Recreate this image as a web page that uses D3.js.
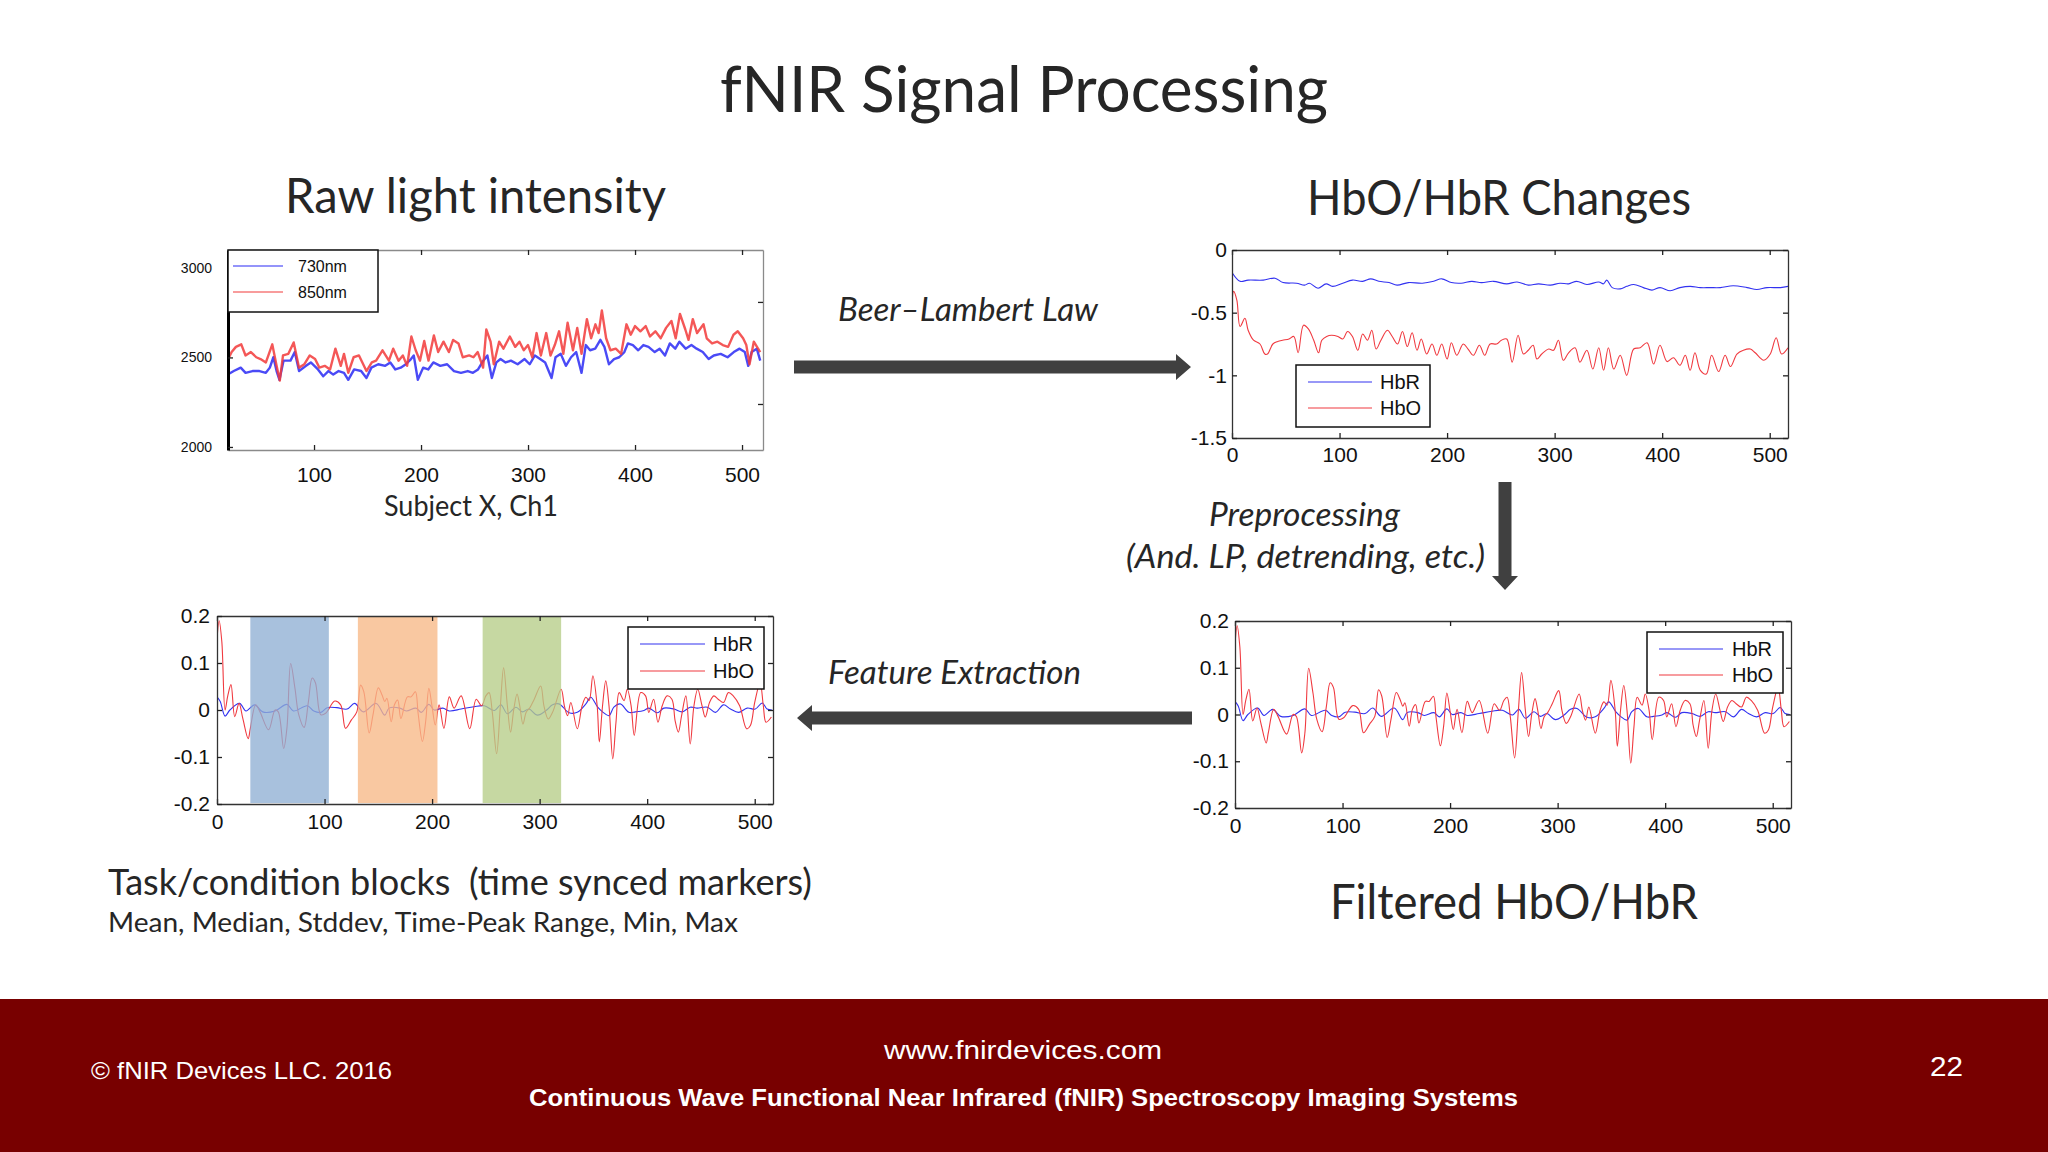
<!DOCTYPE html>
<html>
<head>
<meta charset="utf-8">
<script src="https://cdnjs.cloudflare.com/ajax/libs/d3/7.8.5/d3.min.js"></script>
<style>
  body { margin: 0; background: #fff; }
  svg { display: block; }
  .tick text { font-family: "Liberation Sans", Arial, sans-serif; fill: #111; }
</style>
</head>
<body>
<script>
// ---- data ----
// raw light intensity, [sample, value]
var raw730 = [[19,2404],[25,2424],[31.5,2443],[36,2414],[42.5,2424],[49,2424],[55,2414],[58.7,2443],[62,2501],[65,2424],[67.7,2375],[71.5,2482],[78,2482],[82,2530],[86,2424],[92.5,2453],[97,2472],[103.7,2433],[108.6,2395],[113.4,2424],[118,2404],[123,2424],[128,2414],[132,2375],[137.5,2433],[144,2424],[149,2385],[153.6,2443],[160,2462],[166.5,2453],[171.3,2472],[176,2433],[181,2443],[185.8,2462],[190.6,2491],[193.2,2511],[197,2375],[202,2443],[206.7,2433],[211.5,2472],[218,2453],[224.4,2462],[230.8,2424],[237.3,2414],[243.7,2424],[248.5,2414],[253.3,2433],[258.2,2482],[262,2511],[266.2,2385],[270.4,2472],[274.3,2491],[279,2472],[284,2482],[290.3,2462],[296.8,2491],[301.6,2462],[306.4,2511],[311.3,2491],[316,2472],[322,2385],[325.7,2501],[330.6,2520],[335.4,2453],[340.2,2501],[345,2530],[350,2414],[354,2569],[358,2540],[362.8,2549],[367.6,2598],[371.4,2559],[375.6,2462],[380.4,2491],[385.2,2501],[390,2530],[393.3,2578],[398,2569],[403,2540],[407.8,2569],[412.6,2559],[418.4,2530],[423,2549],[428,2511],[432.5,2578],[437.6,2549],[441.5,2588],[447.3,2549],[452.7,2569],[457.6,2549],[463.3,2530],[468.8,2491],[473.6,2511],[480,2520],[486.5,2501],[492.3,2530],[497.7,2549],[502.6,2530],[505.8,2453],[509,2530],[513.8,2549],[517,2482]];
var raw850 = [[19,2482],[23,2530],[27,2559],[32,2573],[36,2511],[41,2530],[46,2501],[50,2491],[55,2472],[61,2573],[65,2453],[68,2371],[71,2511],[76,2520],[81,2584],[86,2443],[91,2462],[96,2511],[101,2491],[105,2443],[110,2453],[115,2433],[120,2549],[125,2453],[128,2520],[132,2414],[137,2501],[142,2511],[149,2424],[154,2472],[158,2482],[164,2540],[170,2482],[174,2549],[179,2482],[183,2511],[187,2453],[191,2617],[195,2540],[199,2482],[203,2592],[207,2482],[212,2623],[216,2530],[221,2588],[226,2530],[230,2598],[235,2578],[239,2501],[245,2511],[249,2501],[253,2530],[258,2443],[261,2656],[265,2588],[268,2462],[273,2588],[277,2549],[283,2617],[288,2559],[292,2588],[296,2540],[300,2569],[304,2501],[308,2636],[312,2511],[317,2636],[321,2511],[325,2569],[329,2646],[333,2520],[337,2694],[342,2540],[346,2665],[350,2520],[355,2714],[359,2607],[363,2685],[366,2636],[369,2762],[373,2607],[377,2540],[382,2549],[387,2520],[392,2685],[396,2627],[400,2675],[405,2646],[410,2675],[414,2617],[419,2646],[424,2607],[429,2665],[434,2704],[438,2607],[442,2743],[447,2656],[450,2598],[454,2714],[458,2636],[464,2685],[467,2607],[472,2578],[477,2588],[482,2569],[487,2559],[492,2627],[496,2646],[501,2607],[504,2569],[507,2462],[511,2588],[515,2549],[517,2530]];

// HbO / HbR changes
var hbrChange = [[0,-0.18],[7.5,-0.25],[15,-0.24],[29,-0.24],[40,-0.225],[47.5,-0.26],[60,-0.265],[67.5,-0.28],[72,-0.265],[80,-0.305],[87.5,-0.27],[93.5,-0.29],[103,-0.265],[112,-0.24],[121.5,-0.25],[129,-0.23],[136.5,-0.25],[146,-0.26],[153.5,-0.28],[164,-0.26],[177,-0.265],[187.5,-0.25],[195,-0.23],[204,-0.26],[213,-0.265],[223,-0.25],[232,-0.26],[243,-0.25],[255.5,-0.27],[265,-0.255],[275.5,-0.28],[285,-0.27],[296,-0.28],[305,-0.265],[313,-0.27],[320.5,-0.25],[330,-0.275],[341,-0.255],[345.5,-0.27],[348.5,-0.24],[353.5,-0.30],[361,-0.31],[367,-0.29],[373.5,-0.275],[382.5,-0.30],[390.5,-0.32],[398,-0.30],[407.5,-0.325],[416.5,-0.30],[426,-0.29],[435.5,-0.30],[444.5,-0.30],[454,-0.30],[466,-0.285],[479,-0.30],[488,-0.315],[497.5,-0.30],[510,-0.30],[517,-0.29]];
var hboChange = [[0,-0.44],[1.5,-0.33],[4.5,-0.40],[7.5,-0.61],[12,-0.545],[15,-0.64],[20,-0.72],[26,-0.75],[30.5,-0.83],[33,-0.83],[38,-0.75],[42.5,-0.73],[47,-0.72],[53,-0.71],[57.5,-0.69],[61.5,-0.82],[66.5,-0.60],[71,-0.63],[76,-0.72],[80.5,-0.82],[83.5,-0.72],[88,-0.69],[92.5,-0.68],[98.5,-0.69],[103,-0.71],[107.5,-0.65],[112,-0.69],[117,-0.80],[121.5,-0.67],[126,-0.72],[130,-0.64],[134,-0.79],[138.5,-0.72],[144.5,-0.64],[149,-0.69],[154,-0.75],[158.5,-0.65],[163,-0.77],[167.5,-0.66],[172,-0.80],[176,-0.71],[181,-0.83],[186,-0.75],[190.5,-0.84],[195,-0.75],[200,-0.87],[204,-0.74],[209,-0.84],[215,-0.75],[219.5,-0.79],[224.5,-0.84],[230,-0.76],[235,-0.84],[240,-0.75],[246,-0.75],[250.5,-0.72],[255.5,-0.71],[260.5,-0.895],[266,-0.68],[271,-0.83],[275.5,-0.80],[280,-0.76],[283.5,-0.87],[288,-0.83],[294.5,-0.79],[299,-0.80],[303.5,-0.72],[308,-0.88],[313,-0.82],[319,-0.78],[323.5,-0.895],[330,-0.80],[335.5,-0.95],[341,-0.78],[345.5,-0.96],[350,-0.78],[355,-0.95],[361,-0.84],[367,-1.0],[373.5,-0.79],[379.5,-0.78],[386,-0.74],[392,-0.91],[398,-0.76],[404.5,-0.89],[410.5,-0.86],[416.5,-0.92],[421.5,-0.84],[426,-0.96],[430.5,-0.82],[435.5,-0.96],[441,-0.99],[446,-0.84],[452.5,-0.97],[458.5,-0.84],[463.5,-0.93],[469.5,-0.83],[475.5,-0.80],[482,-0.79],[486.5,-0.82],[494.5,-0.88],[500.5,-0.83],[506,-0.70],[511,-0.83],[517,-0.78]];

// filtered HbO / HbR (same signal in both bottom charts)
var hbrFilt = [[0,0.028],[3,0.018],[7.5,-0.013],[12,0],[21,0.014],[27,-0.002],[35,0.011],[42.5,-0.004],[54,-0.002],[65,0.012],[71,-0.002],[84,0.009],[90,-0.002],[96.5,-0.005],[102.5,0.005],[111.5,0.005],[121,0.002],[128,0.014],[136,-0.004],[148,0.014],[156,-0.011],[160,0.004],[170,0.004],[176,-0.002],[185,0.004],[190,-0.005],[197,0.012],[202,0],[210,0.004],[216,-0.002],[227,0.002],[239,0.007],[248.5,0.009],[258,-0.001],[264,0.011],[270,-0.008],[278,0.006],[284,-0.004],[290,0.002],[298,-0.011],[306,-0.001],[312,0.011],[318,0.013],[327.5,-0.006],[335,-0.005],[343,0.013],[347.5,0.027],[354,0.006],[358.5,-0.004],[364.5,-0.012],[369,0.006],[375,0.013],[383,-0.005],[389,-0.004],[397,-0.001],[401.5,0.004],[409.5,-0.006],[415.5,0.004],[425,0.002],[432.5,-0.004],[440,0.006],[446.5,0.004],[456,0.006],[463.5,-0.005],[471,0.011],[477.5,0.002],[485,-0.005],[493,0.004],[500.5,0.002],[507,0.015],[511.5,0.002],[516,0]];
var hboFilt = [[0,0.15],[2,0.19],[4.5,0.145],[7.5,0.0],[10,0.03],[13,0.054],[16.5,-0.014],[20.5,0.014],[24,-0.018],[29,-0.061],[31,-0.039],[36,0.011],[40,-0.004],[48,-0.042],[54,0.0],[57,-0.004],[62,-0.082],[65,-0.039],[68.5,0.099],[72.5,0.046],[76,-0.01],[81,-0.037],[85,0.018],[88.5,0.068],[91.5,0.058],[96.5,-0.01],[101,-0.007],[109.5,0.019],[115,0.011],[119.5,-0.039],[125,-0.021],[130,-0.004],[133.5,0.053],[136.5,0.039],[141.5,-0.049],[145,-0.011],[150,0.047],[153.5,0.032],[156,0.018],[158,0.025],[162,-0.025],[165,0.011],[168,0.021],[171,-0.018],[177,0.028],[180.5,0.028],[184.5,0.039],[187,-0.007],[191,-0.067],[194,-0.025],[197,0.046],[200,0.007],[203,-0.032],[206.5,0.011],[211,-0.039],[216,0.028],[220.5,0.004],[227,0.03],[235,-0.04],[241,0.023],[246,0.009],[250,0.03],[253,0.037],[256,-0.005],[260,-0.093],[263.5,0.009],[266.5,0.09],[270,0.009],[273,-0.047],[276,0.002],[279,0.034],[281.5,0.009],[284.5,-0.03],[287.5,-0.005],[291,0.005],[295,0.023],[301,0.051],[304,0.009],[308,-0.019],[312,-0.005],[320,0.044],[323,0.009],[326,-0.012],[329,0.016],[335,-0.04],[339.5,0.009],[343,0.027],[346,0.02],[349.5,0.073],[353.5,0.009],[355.5,-0.068],[358.5,0.009],[361.5,0.062],[364.5,0.009],[368,-0.104],[371,-0.026],[374,0.037],[378.5,0.02],[381.5,0.044],[385,0.01],[388,-0.054],[394,0.037],[398.5,0.03],[401.5,-0.005],[406,0.023],[410,-0.026],[414,0.009],[418.5,0.03],[423,0.023],[426,-0.023],[429,-0.047],[432,-0.012],[436,0.03],[440,-0.072],[443.5,0.009],[447,0.044],[451,0.009],[454,-0.015],[458,0.016],[462,0.03],[466,0.023],[471,0.016],[475.5,0.037],[480,0.03],[486,0.009],[492.5,-0.04],[496,-0.033],[500,0.016],[505,0.058],[508,0.009],[510.5,-0.026],[515.5,-0.015]];

// task/condition blocks [start, end]
var blocks = [[31,104],[131,205],[247,320]];

// ticks
var rawXTicks = [100,200,300,400,500];
var rawYTicks = [2000,2500,3000];
var rawRightTicks = [2240,2810];
var hbXTicks = [0,100,200,300,400,500];
var changeYTicks = [-1.5,-1,-0.5,0];
var filtYTicks = [-0.2,-0.1,0,0.1,0.2];

var RED = "#f03a40", BLUE = "#3232f0";
var blockColors = ["#90afd4", "#f7b986", "#b6cd88"];

var svg = d3.select("body").append("svg").attr("width",2048).attr("height",1152);
svg.append("rect").attr("width",2048).attr("height",1152).attr("fill","#fff");

function txt(s, x, y, size, o) {
  o = o || {};
  var t = svg.append("text").attr("x",x).attr("y",y)
    .attr("font-size",size)
    .attr("font-family", o.family || "Lato, 'Open Sans', sans-serif")
    .attr("fill", o.fill || "#262626")
    .style("white-space","pre")
    .text(s);
  if (o.italic) t.attr("font-style","italic");
  if (o.bold) t.attr("font-weight","bold");
  if (o.len) t.attr("textLength",o.len).attr("lengthAdjust","spacingAndGlyphs");
  return t;
}

var clipN = 0;
function drawChart(c) {
  var g = svg.append("g");
  var x = d3.scaleLinear().domain(c.xDomain).range([c.left, c.right]);
  var y = d3.scaleLinear().domain(c.yDomain).range([c.bottom, c.top]);
  var id = "clip" + (clipN++);
  g.append("clipPath").attr("id", id).append("rect")
    .attr("x", c.left).attr("y", c.top).attr("width", c.right - c.left).attr("height", c.bottom - c.top);

  var line = d3.line().x(function(d){return x(d[0]);}).y(function(d){return y(d[1]);})
    .curve(c.smooth ? d3.curveCatmullRom : d3.curveLinear);

  var lg = g.append("g").attr("clip-path","url(#"+id+")");
  c.series.forEach(function(s){
    lg.append("path").datum(s.data).attr("d", line)
      .attr("fill","none").attr("stroke", s.color).attr("stroke-width", c.lw)
      .attr("stroke-opacity", c.lineOpacity || 1)
      .attr("stroke-linejoin","round");
  });

  if (c.blocks) {
    g.selectAll("rect.blk").data(c.blocks).enter().append("rect")
      .attr("class","blk")
      .attr("x", function(d){return x(d[0]);})
      .attr("width", function(d){return x(d[1]) - x(d[0]);})
      .attr("y", c.top + 1).attr("height", c.bottom - c.top - 2)
      .attr("fill", function(d,i){return blockColors[i];})
      .attr("fill-opacity", 0.78);
  }

  var fc = c.frameColor || "#333";
  var xb = g.append("g").attr("transform","translate(0,"+c.bottom+")")
    .call(d3.axisBottom(x).tickValues(c.xTicks).tickSize(-5).tickSizeOuter(0)
      .tickPadding(c.xPad).tickFormat(function(d){return String(d);}));
  var xt = g.append("g").attr("transform","translate(0,"+c.top+")")
    .call(d3.axisTop(x).tickValues(c.xTicks).tickSize(-5).tickSizeOuter(0).tickFormat(""));
  var yl = g.append("g").attr("transform","translate("+c.left+",0)")
    .call(d3.axisLeft(y).tickValues(c.yTicks).tickSize(-5).tickSizeOuter(0)
      .tickPadding(c.yPad).tickFormat(function(d){return String(d);}));
  var yr = g.append("g").attr("transform","translate("+c.right+",0)")
    .call(d3.axisRight(y).tickValues(c.rTicks || c.yTicks).tickSize(-5).tickSizeOuter(0).tickFormat(""));

  [xb, xt, yl, yr].forEach(function(a){
    a.select(".domain").attr("stroke", fc).attr("stroke-width", 1.3);
    a.selectAll(".tick line").attr("stroke", "#222").attr("stroke-width", 1.3);
  });
  xb.selectAll(".tick text").attr("font-size", c.xFont);
  yl.selectAll(".tick text").attr("font-size", c.yFont);
  if (c.leftAxis) yl.select(".domain").attr("stroke","#000").attr("stroke-width", 3);

  if (c.legend) {
    var L = c.legend;
    var lgG = g.append("g");
    lgG.append("rect").attr("x", L.x).attr("y", L.y).attr("width", L.w).attr("height", L.h)
      .attr("fill","#fff").attr("stroke","#111").attr("stroke-width",1.5);
    c.series.forEach(function(s, i){
      var yy = L.y + L.rows[i];
      lgG.append("line").attr("x1", L.x + L.l0).attr("x2", L.x + L.l1)
        .attr("y1", yy).attr("y2", yy).attr("stroke", s.color).attr("stroke-width", 1.2);
      lgG.append("text").attr("x", L.x + L.tx).attr("y", yy).attr("dy","0.36em")
        .attr("font-family","'Liberation Sans', Arial, sans-serif")
        .attr("font-size", L.font).attr("fill","#111").text(s.name);
    });
  }
}

// ---- raw light intensity ----
drawChart({
  left: 228, right: 763, top: 250, bottom: 450,
  xDomain: [19.6, 519.6], yDomain: [1983, 3100],
  xTicks: rawXTicks, yTicks: rawYTicks, rTicks: rawRightTicks,
  xPad: 17, yPad: 16, xFont: 21, yFont: 14, lw: 2.4, lineOpacity: 0.85, smooth: false,
  frameColor: "#8a8a8a", leftAxis: true,
  series: [{name:"730nm", color: "#2a2af5", data: raw730}, {name:"850nm", color: "#f23a3a", data: raw850}],
  legend: {x: 228, y: 250, w: 150, h: 62, rows: [16, 42], l0: 5, l1: 55, tx: 70, font: 16}
});

// ---- HbO/HbR changes ----
drawChart({
  left: 1232, right: 1788, top: 250, bottom: 438,
  xDomain: [0, 517], yDomain: [-1.5, 0],
  xTicks: hbXTicks, yTicks: changeYTicks,
  xPad: 9, yPad: 5, xFont: 21, yFont: 21, lw: 1.1, smooth: true,
  series: [{name:"HbR", color: BLUE, data: hbrChange}, {name:"HbO", color: RED, data: hboChange}],
  legend: {x: 1296, y: 365, w: 134, h: 62, rows: [17, 43], l0: 12, l1: 76, tx: 84, font: 20}
});

// ---- task/condition blocks ----
drawChart({
  left: 217, right: 773, top: 616, bottom: 804,
  xDomain: [0, 517], yDomain: [-0.2, 0.2],
  xTicks: hbXTicks, yTicks: filtYTicks,
  xPad: 10, yPad: 7, xFont: 21, yFont: 21, lw: 1.1, smooth: true,
  blocks: blocks,
  series: [{name:"HbR", color: BLUE, data: hbrFilt}, {name:"HbO", color: RED, data: hboFilt}],
  legend: {x: 628, y: 627, w: 136, h: 62, rows: [17, 44], l0: 12, l1: 77, tx: 85, font: 20}
});

// ---- filtered HbO/HbR ----
drawChart({
  left: 1235, right: 1791, top: 621, bottom: 808,
  xDomain: [0, 517], yDomain: [-0.2, 0.2],
  xTicks: hbXTicks, yTicks: filtYTicks,
  xPad: 10, yPad: 6, xFont: 21, yFont: 21, lw: 1.1, smooth: true,
  series: [{name:"HbR", color: BLUE, data: hbrFilt}, {name:"HbO", color: RED, data: hboFilt}],
  legend: {x: 1647, y: 632, w: 136, h: 61, rows: [17, 43], l0: 12, l1: 76, tx: 85, font: 20}
});

// ---- arrows ----
var AC = "#404040";
svg.append("path").attr("fill", AC)
  .attr("d","M794,360.5 L1176,360.5 L1176,354 L1191,367 L1176,380 L1176,373.5 L794,373.5 Z");
svg.append("path").attr("fill", AC)
  .attr("d","M1498.5,482 L1511.5,482 L1511.5,576 L1518,576 L1505,590 L1492,576 L1498.5,576 Z");
svg.append("path").attr("fill", AC)
  .attr("d","M1192,711.5 L812,711.5 L812,705 L797,718 L812,731 L812,724.5 L1192,724.5 Z");

// ---- slide text ----
txt("fNIR Signal Processing", 720, 112, 64, {len: 608});
txt("Raw light intensity", 285, 213, 48, {len: 381});
txt("HbO/HbR Changes", 1307, 215, 48, {len: 384});
txt("Beer\u2013Lambert Law", 838, 321, 32, {italic: true, len: 260});
txt("Subject X, Ch1", 384, 516, 29, {len: 174});
txt("Preprocessing", 1209, 526, 32, {italic: true, len: 191});
txt("(And. LP, detrending, etc.)", 1126, 568, 32, {italic: true, len: 359});
txt("Feature Extraction", 828, 684, 32, {italic: true, len: 253});
txt("Task/condition blocks  (time synced markers)", 108, 895, 36, {len: 704});
txt("Mean, Median, Stddev, Time-Peak Range, Min, Max", 108, 932, 27, {len: 630});
txt("Filtered HbO/HbR", 1330, 919, 48, {len: 368});

// ---- footer ----
svg.append("rect").attr("x",0).attr("y",999).attr("width",2048).attr("height",153).attr("fill","#780000");
var FF = "'Liberation Sans', Arial, sans-serif";
txt("\u00a9 fNIR Devices LLC. 2016", 91, 1079, 24, {family: FF, fill: "#fff", len: 301});
txt("www.fnirdevices.com", 884, 1059, 26, {family: FF, fill: "#fff", len: 278});
txt("Continuous Wave Functional Near Infrared (fNIR) Spectroscopy Imaging Systems", 529, 1106, 23, {family: FF, fill: "#fff", bold: true, len: 989});
txt("22", 1930, 1076, 28, {family: FF, fill: "#fff", len: 33});
</script>
</body>
</html>
